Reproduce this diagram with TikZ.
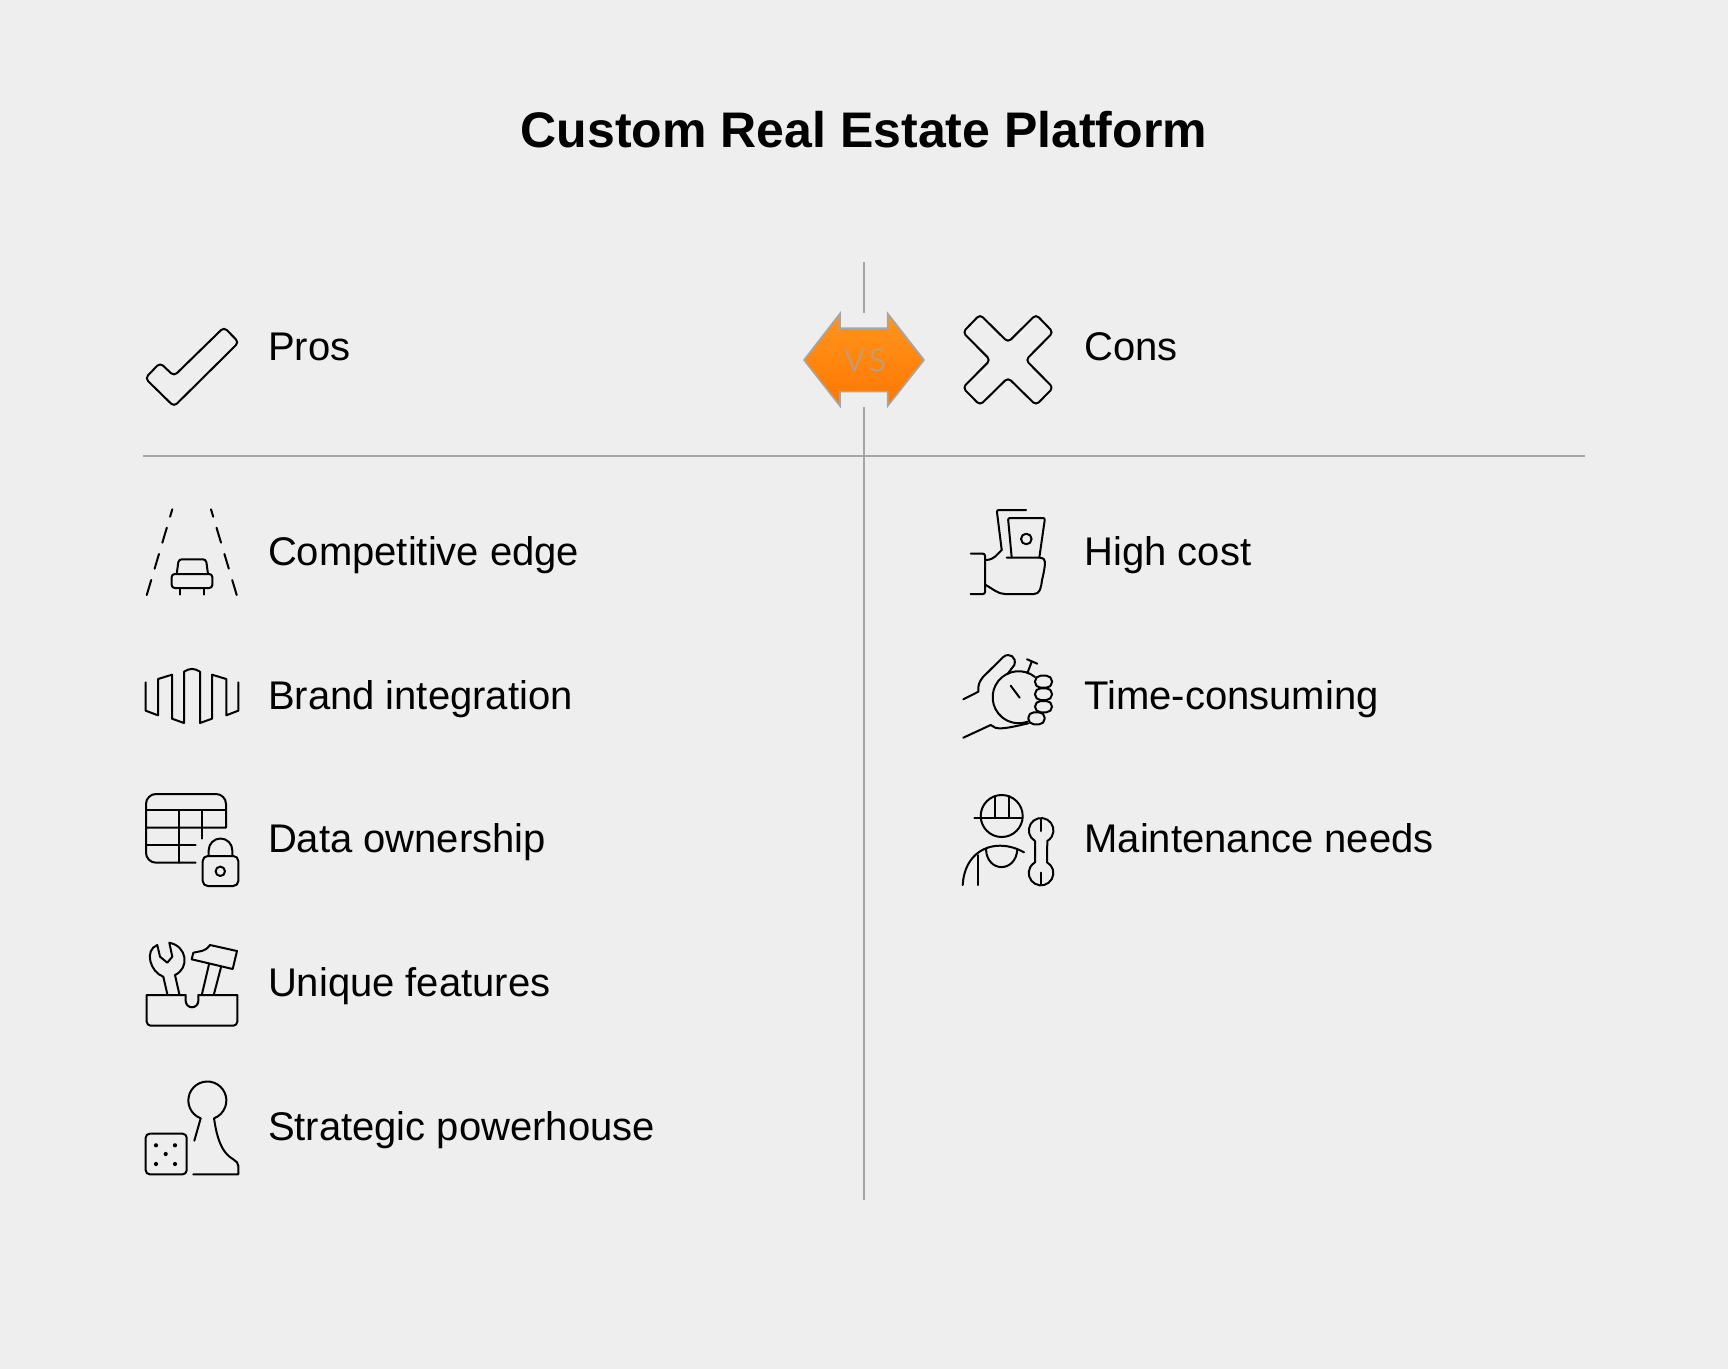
\documentclass[tikz,border=0pt]{standalone}
\usepackage{fontspec}
\setmainfont{Liberation Sans}
\newfontfamily\vsfont[UprightFont=* Light,LetterSpace=15]{Lato}
\usepackage{xcolor}
\definecolor{pagebg}{HTML}{EEEEEE}
\definecolor{rulegray}{HTML}{A6A6A6}
\definecolor{vstop}{HTML}{FF951F}
\definecolor{vsbottom}{HTML}{FF7700}
\tikzstyle{titletext} = [inner sep=0pt, 
font=\bfseries\fontsize{25}{30}\selectfont]
\tikzstyle{itemtext} = [inner sep=0pt, 
text width=200pt, 
text height=14pt, 
text depth=4pt, 
align=flush left, 
font=\fontsize{20}{24}\selectfont]
\tikzstyle{divider} = [draw=rulegray, line width=0.8pt]
\tikzstyle{icon} = [draw=black, line width=1pt, line join=round, line cap=round]

\begin{document}
\begin{tikzpicture}[x=0.5pt, y=-0.5pt, node distance=71.9pt]

	\fill [pagebg, use as bounding box] (0,0) rectangle (1728,1369);

	\node (title) [titletext, anchor=base] at (864,147.5) {Custom Real Estate Platform};

	\node (pros) [itemtext] at (468,350.7) {Pros};
	\node (item1) [itemtext, below of=pros, yshift=-30.4pt] {Competitive edge};
	\node (item2) [itemtext, below of=item1] {Brand integration};
	\node (item3) [itemtext, below of=item2] {Data ownership};
	\node (item4) [itemtext, below of=item3] {Unique features};
	\node (item5) [itemtext, below of=item4] {Strategic powerhouse};

	\node (cons) [itemtext, right of=pros, xshift=336.35pt] {Cons};
	\node (con1) [itemtext, right of=item1, xshift=336.35pt] {High cost};
	\node (con2) [itemtext, below of=con1] {Time-consuming};
	\node (con3) [itemtext, below of=con2] {Maintenance needs};

	% rules
	\coordinate (ruleleft) at (143.3,455.7);
	\coordinate (ruleright) at (1585,455.7);
	\coordinate (axistop) at (864,262);
	\coordinate (notchtop) at (864,312.7);
	\coordinate (notchbottom) at (864,407.3);
	\coordinate (axisbottom) at (864,1200);
	\draw [divider] (ruleleft) -- (ruleright);
	\draw [divider] (axistop) -- (notchtop);
	\draw [divider] (notchbottom) -- (axisbottom);

	% vs badge
	\path [draw=rulegray, line width=0.8pt, line join=miter, top color=vstop, bottom color=vsbottom]
		(804,360) -- (840,313.5) -- (840,328.3) -- (887.7,328.3) -- (887.7,313.5) -- (924,360)
		-- (887.7,406) -- (887.7,391.7) -- (840,391.7) -- (840,406) -- cycle;
	\node (vs) [inner sep=0pt, text=rulegray, font=\vsfont\fontsize{15.5}{18}\selectfont] at (865,360.5) {VS};

	% check
	\draw [icon, rounded corners=2pt] (174,406.5) -- (238.8,342.3) -- (224,327.2) -- (174,376)
		-- (160,362.8) -- (145.2,378.3) -- cycle;

	% cross
	\draw [icon, rounded corners=2pt] (1008,342.3) -- (1036,314.5) -- (1053.2,332.3) -- (1025.7,360)
		-- (1053.2,387.7) -- (1036,405.2) -- (1008,377.7) -- (980,405.2) -- (962.8,387.7)
		-- (990.3,360) -- (962.8,332.3) -- (980,314.5) -- cycle;

	% road and car
	\foreach \ya/\yb in {509.3/516.7, 527.7/542.7, 554/568.7, 580/595}{
		\draw [icon] ({172.3-(\ya-509.3)*0.298},\ya) -- ({172.3-(\yb-509.3)*0.298},\yb);
		\draw [icon] ({211+(\ya-509.3)*0.3},\ya) -- ({211+(\yb-509.3)*0.3},\yb);
	}
	\draw [icon, rounded corners=1.5pt] (176.7,574) -- (178.7,559.3) -- (206,559.3) -- (208,574);
	\draw [icon, rounded corners=1.5pt] (171.7,574) rectangle (212.3,588);
	\draw [icon] (180,588) -- (180,594.7);
	\draw [icon] (204,588) -- (204,594.7);

	% folded band
	\draw [icon] (145.7,682.3) -- (145.7,710.7) -- (158,715.3) -- (158,679) -- (172,674.7) -- (172,718.7)
		-- (184,723) -- (184,671.7) .. controls (190,668) and (194,668) .. (200,671.7) -- (200,723)
		-- (212,718.7) -- (212,674.7) -- (226.3,679) -- (226.3,715.3) -- (238.3,710.7) -- (238.3,682.3);

	% table and lock
	\draw [icon] (195.7,862.7) -- (156,862.7) arc (90:180:10) -- (146,804) arc (180:270:10)
		-- (216,794) arc (270:360:10) -- (226,827.7) -- (146,827.7);
	\draw [icon] (146,810) -- (226,810);
	\draw [icon] (146,845) -- (195.7,845);
	\draw [icon] (178.7,810) -- (178.7,862.7);
	\draw [icon] (202,810) -- (202,838.7);
	\draw [icon, rounded corners=2.5pt] (202.7,856) rectangle (238.3,886);
	\draw [icon] (208.7,856) -- (208.7,850.3) arc (180:360:11.8) -- (232.3,856);
	\draw [icon] (220.3,871.3) circle (4.7);

	% toolbox
	\draw [icon] (185.7,995) -- (146.7,995) -- (146.7,1021.7) arc (180:90:4) -- (233.3,1025.7) arc (90:0:4)
		-- (237.3,995) -- (198.3,995);
	\draw [icon] (185.7,995) -- (185.7,1001) arc (180:0:6.3) -- (198.3,995);
	\draw [icon] (167.3,994) -- (163.3,976.7) .. controls (150,972) and (144,950) .. (157.3,945)
		-- (160,956.7) -- (167.3,962.7) -- (172.3,956.7) -- (169.3,942.7)
		.. controls (187,946) and (190,968) .. (175,975) -- (179.3,994);
	\draw [icon] (202,994) -- (209,964.3);
	\draw [icon] (214,994) -- (221,967.3);
	\draw [icon] (191.7,959.3) -- (193.3,952.7) .. controls (200,951) and (205,952) .. (210,945)
		-- (237,951) -- (232.7,969) -- cycle;

	% die and pawn
	\draw [icon, rounded corners=2pt] (145.7,1133.7) rectangle (186.7,1174.3);
	\foreach \dx/\dy in {156/1145.3, 175/1145.3, 165.7/1154, 156/1164, 175/1164}
		\fill (\dx,\dy) circle (2.1);
	\draw [icon] (194.3,1140.7) -- (200.7,1118.3) arc (110.5:429.5:19)
		.. controls (216,1132) and (219,1144) .. (225,1152) .. controls (231,1160) and (238.3,1160) .. (238.3,1166)
		-- (238.3,1174.3) -- (193.3,1174.3);

	% hand with money
	\draw [icon, rounded corners=1pt] (1026,510) -- (996.7,510) -- (1001.7,550);
	\draw [icon] (1001.7,550) .. controls (997,554) and (995,559.7) .. (985.7,560);
	\draw [icon, rounded corners=1pt] (970.7,553.7) -- (985,553.7) -- (985,594) -- (970.7,594);
	\draw [icon] (985.7,585) .. controls (993,589) and (998,594) .. (1005,594) -- (1034,594)
		.. controls (1040,594) and (1041,588) .. (1042,580) .. controls (1044,572) and (1045,566) .. (1045,562)
		.. controls (1045,559) and (1043,557.7) .. (1040,557.7) -- (1006.7,557.7);
	\draw [icon, rounded corners=1pt] (1011.7,557.7) -- (1008,518) -- (1045,518) -- (1039.3,557.7);
	\draw [icon] (1026.3,539) circle (5.3);

	% hand with stopwatch
	\draw [icon] (963.3,699.3) -- (978.3,691.7) .. controls (978,685) and (979,682) .. (983,677)
		-- (1003.3,657) .. controls (1009,652) and (1017,657) .. (1014.3,665) -- (1007.3,674.3);
	\draw [icon] (963.3,737.7) -- (990.7,725) .. controls (996,730) and (1003,729.3) .. (1028.3,723.3);
	\draw [icon] (1035,677) arc (-51:-290:26);
	\draw [icon] (1010.7,685.7) -- (1019.7,697.7);
	\draw [icon] (1027.3,673.3) -- (1031.7,661.7);
	\draw [icon] (1027,659.3) -- (1037.3,663.7);
	\foreach \ya/\yb in {675.7/687.7, 688.3/700, 701/712.3}
		\draw [icon, rounded corners=2.8pt] (1035,\ya) rectangle (1052,\yb);
	\draw [icon, rounded corners=2.8pt] (1028.3,712.3) rectangle (1044.7,724.3);

	% worker with wrench
	\draw [icon] (1001.7,816) circle (21);
	\draw [icon] (974.3,818) -- (1022.7,818);
	\draw [icon] (995,796) -- (995,818);
	\draw [icon] (1009.3,796) -- (1009.3,818);
	\draw [icon] (962.7,885) .. controls (964,860) and (980,845.7) .. (1000,845.7) .. controls (1010,845.7) and (1018,849) .. (1024,852.3);
	\draw [icon] (978,885) -- (978,855);
	\draw [icon] (986,849.3) .. controls (987,873) and (1016,873) .. (1017.3,849.3);
	\draw [icon] (1035,841) arc (120:420:12.3) -- (1047,862.3) arc (-61:241:12.3) -- (1035,841);
	\draw [icon] (1041,819) -- (1041,831);
	\draw [icon] (1041,872.7) -- (1041,885);

\end{tikzpicture}
\end{document}
